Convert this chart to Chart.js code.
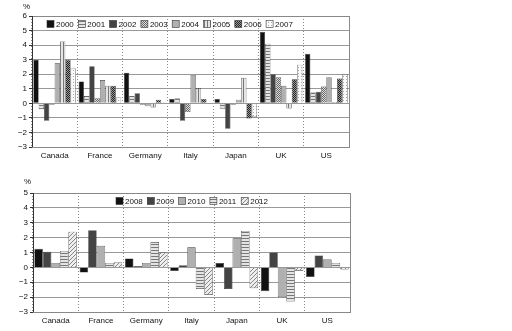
<!DOCTYPE html>
<html><head><meta charset="utf-8">
<script src="https://cdn.jsdelivr.net/npm/chart.js@4.4.1/dist/chart.umd.min.js"></script>
<style>
html,body{margin:0;padding:0;background:#fff;width:512px;height:331px;overflow:hidden}
.c{position:absolute;left:0;width:512px}
</style></head><body>
<div class="c" style="top:0;height:166px"><canvas id="c1" width="512" height="166"></canvas></div>
<div class="c" style="top:166px;height:165px"><canvas id="c2" width="512" height="165"></canvas></div>
<script>
const categories = ["Canada","France","Germany","Italy","Japan","UK","US"];
const yearsTop = ["2000","2001","2002","2003","2004","2005","2006","2007"];
const yearsBottom = ["2008","2009","2010","2011","2012"];
const topTicks = ["\u22123","\u22122","\u22121","0","1","2","3","4","5","6"];
const bottomTicks = ["\u22123","\u22122","\u22121","0","1","2","3","4","5"];

const v2000 = [3.0, 1.5, 2.1, 0.3, 0.3, 4.9, 3.4];
const v2001 = [-0.4, 0.5, 0.5, 0.35, -0.38, 4.1, 0.75];
const v2002 = [-1.2, 2.55, 0.7, -1.2, -1.75, 2.0, 0.8];
const v2003 = [-0.1, 0.35, -0.1, -0.6, -0.1, 1.8, 1.15];
const v2004 = [2.75, 1.6, -0.2, 1.95, 0.25, 1.2, 1.8];
const v2005 = [4.25, 1.2, -0.28, 1.05, 1.75, -0.35, 0.1];
const v2006 = [3.0, 1.2, 0.25, 0.3, -1.05, 1.65, 1.7];
const v2007 = [2.4, 0.4, 0.05, 0.0, -0.95, 2.65, 2.0];

const v2008 = [1.25, -0.35, 0.6, -0.25, 0.3, -1.6, -0.65];
const v2009 = [1.05, 2.5, 0.1, 0.15, -1.45, 1.0, 0.8];
const v2010 = [0.3, 1.45, 0.3, 1.35, 1.95, -2.0, 0.55];
const v2011 = [1.1, 0.3, 1.7, -1.45, 2.45, -2.3, 0.3];
const v2012 = [2.4, 0.35, 1.0, -1.85, -1.4, -0.22, -0.15];

function pat(w,h,draw){
  const c=document.createElement('canvas');c.width=w;c.height=h;
  const g=c.getContext('2d');draw(g);
  return document.createElement('canvas').getContext('2d').createPattern(c,'repeat');
}
const hStripe = pat(3,3,g=>{g.fillStyle='#e4e4e4';g.fillRect(0,0,3,3);g.fillStyle='#777';g.fillRect(0,0,3,1);});
const vStripe = pat(3,3,g=>{g.fillStyle='#e4e4e4';g.fillRect(0,0,3,3);g.fillStyle='#777';g.fillRect(0,0,1,3);});
const checkMid = pat(2,2,g=>{g.fillStyle='#ddd';g.fillRect(0,0,2,2);g.fillStyle='#666';g.fillRect(0,0,1,1);g.fillRect(1,1,1,1);});
const checkDark = pat(2,2,g=>{g.fillStyle='#999';g.fillRect(0,0,2,2);g.fillStyle='#222';g.fillRect(0,0,1,1);g.fillRect(1,1,1,1);});
const dots = pat(3,3,g=>{g.fillStyle='#fafafa';g.fillRect(0,0,3,3);g.fillStyle='#aaa';g.fillRect(1,1,1,1);});
const diag = pat(4,4,g=>{g.fillStyle='#eee';g.fillRect(0,0,4,4);g.fillStyle='#888';for(let i=0;i<4;i++){g.fillRect(i,3-i,1,1);}});

const stylesTop = ['#111', hStripe, '#444', checkMid, '#b0b0b0', vStripe, checkDark, dots];
const stylesBottom = ['#111', '#444', '#b0b0b0', hStripe, diag];

const legendPlugin = {
  id:'inLegend',
  afterDatasetsDraw(chart, args, opts){
    const ctx=chart.ctx; ctx.save();
    ctx.font='8px "Liberation Sans", Arial, sans-serif';
    ctx.textBaseline='middle';
    chart.data.datasets.forEach((ds,i)=>{
      const x=opts.x+i*opts.step, y=opts.y;
      ctx.fillStyle=ds.backgroundColor; ctx.fillRect(x,y-3.5,7,7);
      ctx.strokeStyle='#333'; ctx.lineWidth=0.6; ctx.strokeRect(x,y-3.5,7,7);
      ctx.fillStyle='#111'; ctx.fillText(ds.label,x+9,y+0.5);
    });
    ctx.restore();
  }
};
const framePlugin = {
  id:'frame',
  afterDraw(chart, args, opts){
    const a=chart.chartArea, ctx=chart.ctx; ctx.save();
    ctx.strokeStyle='#888'; ctx.lineWidth=1;
    ctx.strokeRect(Math.round(a.left)+0.5, Math.round(a.top)+0.5, Math.round(a.right-a.left), Math.round(a.bottom-a.top));
    ctx.beginPath(); ctx.strokeStyle='#333'; ctx.moveTo(Math.round(a.left)+0.5,a.top); ctx.lineTo(Math.round(a.left)+0.5,a.bottom); ctx.stroke();
    ctx.font='8px "Liberation Sans", Arial, sans-serif'; ctx.fillStyle='#111';
    ctx.textAlign='left'; ctx.textBaseline='middle';
    ctx.fillText('%', opts.px, opts.py);
    ctx.restore();
  }
};

function makeChart(id, years, series, styles, ticks, ymin, ymax, pad, yw, legend, pct){
  return new Chart(document.getElementById(id), {
    type:'bar',
    data:{labels:categories, datasets: years.map((y,i)=>({label:y,data:series[i],backgroundColor:styles[i],borderColor:'#333',borderWidth:0.6,barPercentage:1.0,categoryPercentage:0.94}))},
    options:{
      responsive:false, animation:false, devicePixelRatio:1,
      layout:{padding:pad},
      plugins:{legend:{display:false},tooltip:{enabled:false},inLegend:legend,frame:pct},
      scales:{
        x:{grid:{offset:true,color:'#888',lineWidth:1,drawTicks:false},border:{display:false,dash:[1,2]},
           ticks:{color:'#111',font:{size:8,family:'"Liberation Sans", Arial, sans-serif'},padding:4,maxRotation:0},
           afterFit(s){s.height=18;}},
        y:{min:ymin,max:ymax,grid:{color:'#999',lineWidth:1,tickLength:3,tickColor:'#333'},border:{display:false},
           ticks:{stepSize:1,color:'#111',padding:2,font:{size:8,family:'"Liberation Sans", Arial, sans-serif'},
             callback:(v)=>ticks[v-ymin]},
           afterFit(s){s.width=yw;}}
      }
    },
    plugins:[legendPlugin, framePlugin]
  });
}
const c1 = makeChart('c1', yearsTop, [v2000,v2001,v2002,v2003,v2004,v2005,v2006,v2007], stylesTop, topTicks, -3, 6,
  {left:0,top:16,right:163,bottom:1}, 32, {x:47,y:24,step:31.3}, {px:23,py:7});
const c2 = makeChart('c2', yearsBottom, [v2008,v2009,v2010,v2011,v2012], stylesBottom, bottomTicks, -3, 5,
  {left:0,top:27,right:162,bottom:1}, 33, {x:116,y:35,step:31.3}, {px:24,py:16});
</script>
</body></html>
